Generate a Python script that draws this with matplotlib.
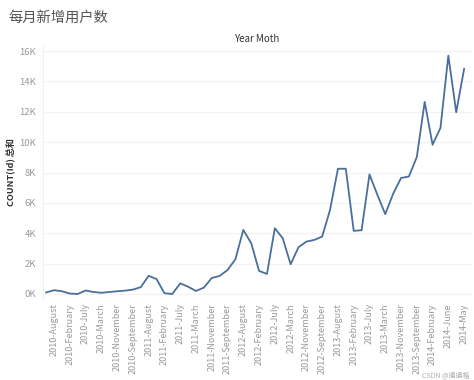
import matplotlib
matplotlib.use("Agg")
import matplotlib.pyplot as plt

plt.rcParams['font.family'] = ['Noto Sans CJK SC', 'DejaVu Sans']

# months per year, sorted alphabetically the way the source tool sorts them
years = [2010, 2011, 2012, 2013]
month_names = ["April", "August", "December", "February", "January", "July",
               "June", "March", "May", "November", "October", "September"]
months_2014 = ["April", "February", "January", "June", "March", "May"]

labels = ["%d-%s" % (y, m) for y in years for m in month_names]
labels += ["2014-%s" % m for m in months_2014]

# COUNT(Id) per month
counts = [100, 250, 180, 30, 0, 230, 130, 80, 130, 180, 220, 290,
          450, 1200, 980, 50, 0, 700, 480, 200, 420, 1050, 1190, 1580,
          2290, 4220, 3350, 1520, 1320, 4330, 3670, 1960, 3080, 3450, 3560, 3780,
          5540, 8250, 8250, 4160, 4200, 7880, 6530, 5260, 6600, 7640, 7740, 9020,
          12650, 9830, 10940, 15700, 11970, 14830]

yticks = [0, 2000, 4000, 6000, 8000, 10000, 12000, 14000, 16000]
ytick_labels = ["0K", "2K", "4K", "6K", "8K", "10K", "12K", "14K", "16K"]

fig = plt.figure(figsize=(4.74, 3.8), dpi=100)
ax = fig.add_axes([43 / 474, 1 - 299 / 380, 429 / 474, 254 / 380])

x = list(range(len(counts)))
ax.plot(x, counts, color="#4a6f9c", linewidth=1.3)

ax.set_xlim(-0.4, 54.0)
ax.set_ylim(-330, 16400)

ax.set_yticks(yticks)
ax.set_yticklabels(ytick_labels)
ax.set_xticks(x[1::2])
ax.set_xticklabels(labels[1::2], rotation=90)

ax.tick_params(axis="both", length=0, colors="#999999", labelsize=6.8)
ax.tick_params(axis="x", labelsize=6.5, pad=3)
ax.tick_params(axis="y", pad=5)

ax.grid(axis="y", color="#f2f2f2", linewidth=0.8)
ax.set_axisbelow(True)
for side in ["top", "right", "bottom"]:
    ax.spines[side].set_visible(False)
ax.spines["left"].set_color("#f0f0f0")

ax.set_ylabel("COUNT(Id) 总和", fontsize=6.5, fontweight="semibold", color="#333333")
ax.yaxis.set_label_coords(-(43 - 16) / 429, 0.5)

fig.text(8 / 474, 1 - 18 / 380, "每月新增用户数", fontsize=10.3, color="#555555", va="center")
fig.text(257 / 474, 1 - 39 / 380, "Year Moth", fontsize=7, color="#333333",
         ha="center", va="center")
fig.text(470 / 474, 1 - 375 / 380, "CSDN @摸摸格", fontsize=5, color="#aaaaaa",
         ha="right", va="center")

fig.savefig("out.png", dpi=100)
